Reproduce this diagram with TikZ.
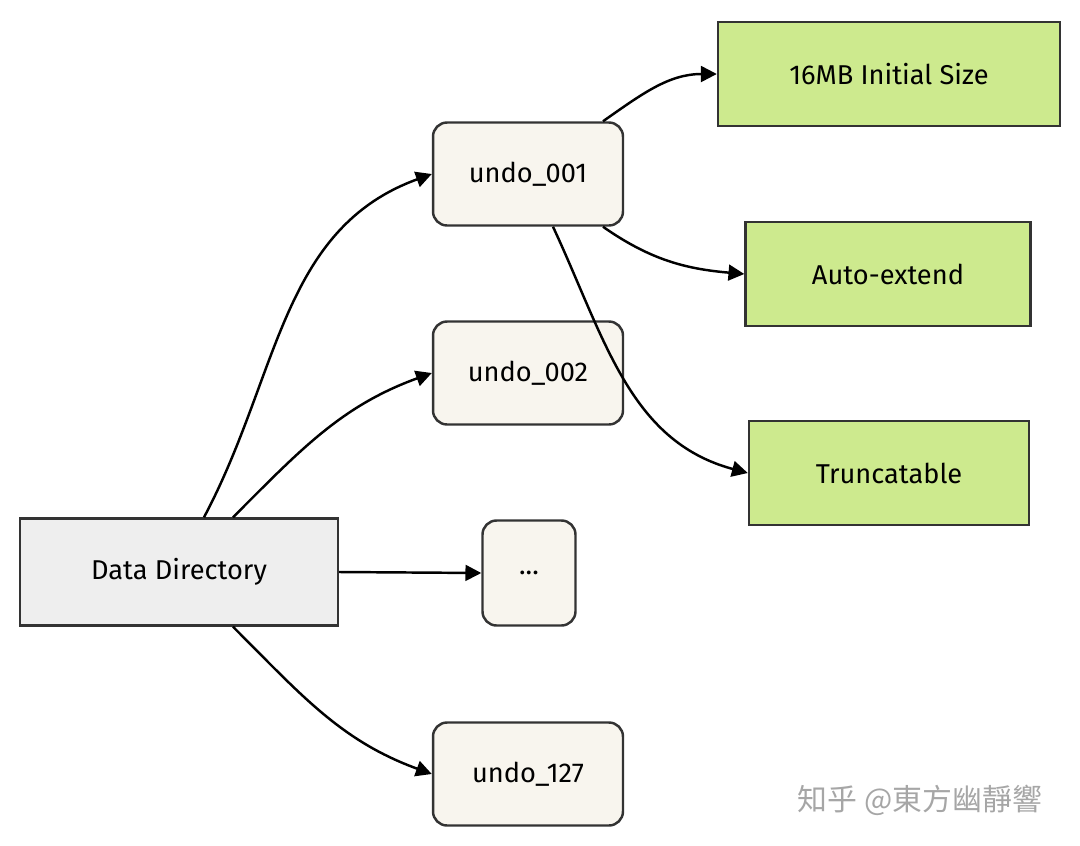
\documentclass[tikz,border=0pt]{standalone}
\usepackage{fontspec}
\setmainfont{Fira Sans}
\newfontfamily\cjk{Noto Sans CJK SC}
\usetikzlibrary{arrows.meta}
\tikzset{
  box/.style={draw=black!80, line width=1.4pt, inner sep=0pt, font=\fontsize{15.5}{18}\selectfont},
  undo/.style={box, fill=undoFill, rounded corners=8pt, minimum width=3.8cm, minimum height=2.06cm},
  prop/.style={box, fill=propFill, minimum height=2.07cm},
  link/.style={line width=1.4pt, -{Triangle[length=9pt,width=9pt]}}
}
\definecolor{undoFill}{HTML}{F8F5EE}
\definecolor{propFill}{HTML}{CDEA8E}
\definecolor{dirFill}{HTML}{EEEEEE}
\begin{document}
\begin{tikzpicture}[x=0.02cm, y=-0.02cm]
  \useasboundingbox (0,0) rectangle (1080,846);
  \node[box, fill=dirFill, minimum width=6.36cm, minimum height=2.14cm] (dir) at (179,572) {Data Directory};
  \node[undo] (u1) at (528,174) {undo\_001};
  \node[undo] (u2) at (528,373) {undo\_002};
  \node[undo, minimum width=1.86cm, minimum height=2.1cm] (ud) at (529,573) {...};
  \node[undo] (u127) at (528,774) {undo\_127};
  \node[prop, minimum width=6.84cm] (init) at (889,74) {16MB Initial Size};
  \node[prop, minimum width=5.7cm] (auto) at (888,274) {Auto-extend};
  \node[prop, minimum width=5.6cm] (trunc) at (889,473) {Truncatable};
  % connectors
  \draw[link] ([xshift=0.5cm]dir.north) to[out=62, in=200] (u1.west);
  \draw[link] ([xshift=1.08cm]dir.north) to[out=45, in=200] (u2.west);
  \draw[link] (dir.east) -- (ud.west);
  \draw[link] ([xshift=1.08cm]dir.south) to[out=-45, in=160] (u127.west);
  \draw[link] ([xshift=1.5cm]u1.north) to[out=35, in=180] (init.west);
  \draw[link] ([xshift=1.5cm]u1.south) to[out=-35, in=175] (auto.west);
  \draw[link] ([xshift=0.5cm]u1.south) to[out=-65, in=165] (trunc.west);
  % watermark
  \node[text=black!35, font=\cjk\fontsize{17}{20}\selectfont] (mark) at (920,800) {知乎 @東方幽靜響};
\end{tikzpicture}
\end{document}
